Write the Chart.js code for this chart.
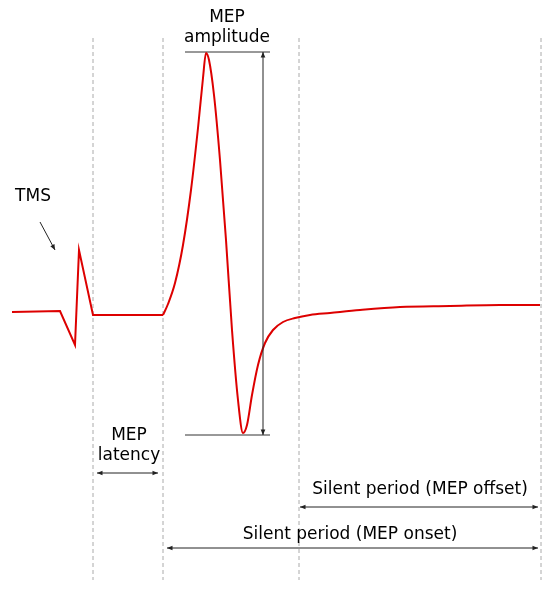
<!DOCTYPE html>
<html><head><script src="https://cdn.jsdelivr.net/npm/chart.js"></script>
<style>html,body{margin:0;background:#fff}#w{width:550px;height:590px}</style></head>
<body><div id="w"><canvas id="c"></canvas></div>
<script>
const tmsX=[12,60,75,79,93,163];
const tmsY=[312,311,345,250,315,315];
const mepX=[163,168,175,183,191,198,203,206,209,214,220,226,232,238,243,247,252,258,265,273,283,295,310,330,360,400,450,500,540];
const mepY=[315,304,283,245,190,128,78,53,60,95,160,240,330,400,433,425,395,365,343,330,322,318,315,313,310,307,306,305,305];
const dashX=[93,163,299,541];
const labels=[["MEP",227,18],["amplitude",227,38],["TMS",33,197],["MEP",129,436],["latency",129,456],["Silent period (MEP offset)",420,490],["Silent period (MEP onset)",350,535]];
const arrows=[[263,52,263,435,true],[97,473,158,473,true],[300,507,538,507,true],[167,548,538,548,true],[40,222,55,250,false]];
const hlines=[[185,270,52],[185,270,435]];
const ds=[{data:tmsX.map((x,i)=>({x,y:tmsY[i]})),borderColor:'#dd0000',borderWidth:2,pointRadius:0,tension:0},
{data:mepX.map((x,i)=>({x,y:mepY[i]})),borderColor:'#dd0000',borderWidth:2,pointRadius:0,cubicInterpolationMode:'monotone'}];
dashX.forEach(x=>ds.push({data:[{x,y:38},{x,y:580}],borderColor:'#aaa',borderWidth:1,borderDash:[4,3],pointRadius:0}));
hlines.forEach(h=>ds.push({data:[{x:h[0],y:h[2]},{x:h[1],y:h[2]}],borderColor:'#333',borderWidth:1,pointRadius:0}));
const ann={id:'ann',afterDatasetsDraw(ch){const c=ch.ctx,xs=ch.scales.x,ys=ch.scales.y;c.save();
c.strokeStyle='#222';c.fillStyle='#222';c.lineWidth=1;
function head(x1,y1,x2,y2){const a=Math.atan2(y2-y1,x2-x1),L=6;c.beginPath();c.moveTo(x2,y2);c.lineTo(x2-L*Math.cos(a-0.4),y2-L*Math.sin(a-0.4));c.lineTo(x2-L*Math.cos(a+0.4),y2-L*Math.sin(a+0.4));c.closePath();c.fill();}
arrows.forEach(a=>{const x1=xs.getPixelForValue(a[0]),y1=ys.getPixelForValue(a[1]),x2=xs.getPixelForValue(a[2]),y2=ys.getPixelForValue(a[3]);
c.beginPath();c.moveTo(x1,y1);c.lineTo(x2,y2);c.stroke();head(x1,y1,x2,y2);if(a[4])head(x2,y2,x1,y1);});
c.font='17px "DejaVu Sans"';c.textAlign='center';c.textBaseline='middle';c.fillStyle='#000';
labels.forEach(l=>c.fillText(l[0],xs.getPixelForValue(l[1]),ys.getPixelForValue(l[2])));c.restore();}};
new Chart(document.getElementById('c'),{type:'line',data:{datasets:ds},plugins:[ann],
options:{responsive:true,maintainAspectRatio:false,animation:false,layout:{padding:0},
plugins:{legend:{display:false},tooltip:{enabled:false}},
scales:{x:{type:'linear',min:0,max:550,display:false},y:{min:0,max:590,reverse:true,display:false}}}});
</script></body></html>
